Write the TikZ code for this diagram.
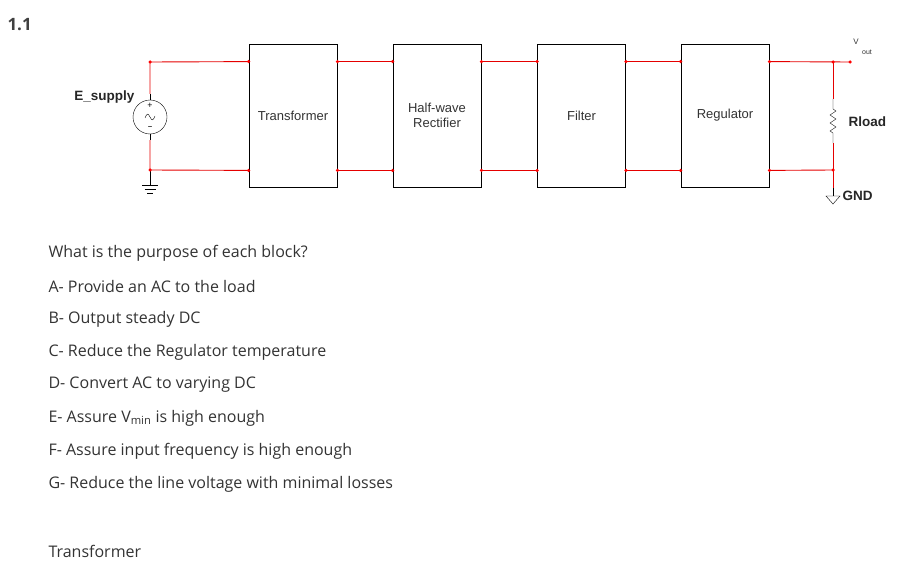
\documentclass[tikz,border=0pt]{standalone}
\usepackage{fontspec}
\setmainfont{Open Sans}
\newfontfamily\arial{Liberation Sans}
\begin{document}
\begin{tikzpicture}[x=1pt,y=-1pt,
 wire/.style={red!90!black,line width=0.9pt},
 blk/.style={draw,line width=0.8pt,minimum width=88pt,minimum height=143pt,inner sep=0pt,font=\arial\fontsize{13}{15}\selectfont,align=center,text=black!80},
 jd/.style={circle,fill=red,inner sep=0pt,minimum size=3.5pt},
 q/.style={anchor=west,font=\fontsize{16}{18}\selectfont,text=black!80},
 lbl/.style={font=\arial\bfseries\fontsize{13.5}{15}\selectfont,text=black!85}]
\useasboundingbox (0,0) rectangle (915,583);
\node[font=\bfseries\fontsize{17}{18}\selectfont,text=black!75,anchor=west] (t) at (4,25) {1.1};
\node[blk] (b1) at (293,115.5) {Transformer};
\node[blk] (b2) at (437,115.5) {Half-wave\\Rectifier};
\node[blk] (b3) at (581.5,115.5) {Filter};
\node[blk] (b4) at (725,115.5) {Regulator};
\foreach \b in {b1,b2,b3,b4}{
 \coordinate (\b tl) at ([yshift=-18pt]\b.north west);
 \coordinate (\b bl) at ([yshift=17pt]\b.south west);
 \coordinate (\b tr) at ([yshift=-18pt]\b.north east);
 \coordinate (\b br) at ([yshift=17pt]\b.south east);}
\draw[wire] (b1tr)--(b2tl) (b1br)--(b2bl) (b2tr)--(b3tl) (b2br)--(b3bl) (b3tr)--(b4tl) (b3br)--(b4bl);
% source
\node[draw,circle,minimum size=34pt,inner sep=0pt] (src) at (150,117) {};
\node[font=\fontsize{9}{9}\selectfont] at (150,106) {+};
\node[font=\fontsize{9}{9}\selectfont] at (150,128) {--};
\draw (145,118) .. controls (147,113) and (148,113) .. (150,117) .. controls (152,121) and (153,121) .. (155,116);
\coordinate (st) at (150,62); \coordinate (sb) at (150,170);
\draw (src.north)--++(0,-6) coordinate (sn);
\draw (src.south)--++(0,6) coordinate (ss);
\draw[wire] (sn)--(st)--(b1tl);
\draw[wire] (ss)--(sb)--(b1bl);
\draw (sb)--++(0,15) coordinate (g);
\draw (g)++(-8,0)--++(16,0) (g)++(-5.5,4)--++(11,0) (g)++(-3,8)--++(6,0);
\node[lbl,anchor=east] (es) at (138,97) {E\_supply};
% output
\coordinate (ot) at (833,62); \coordinate (ob) at (833,170); \coordinate (vo) at (850,62);
\draw[wire] (b4tr)--(vo) (b4br)--(ob);
\draw[wire] (ot)--(833,99) (833,143)--(ob)--(833,188);
\draw (833,99)--(833,109) -- (836,111) -- (830,115) -- (836,119) -- (830,123) -- (836,127) -- (830,131) -- (833,133) -- (833,143);
\draw (826,196)--(840,196)--(833,204)--cycle;
\draw (833,188)--(833,196);
\node[lbl,anchor=west] (rl) at (845,122) {Rload};
\node[lbl,anchor=west] (gnd) at (839,196) {GND};
\node[font=\arial\fontsize{8}{8}\selectfont,text=black!80] (v) at (856,42) {V};
\node[font=\arial\fontsize{7}{7}\selectfont,text=black!80] at (867,52) {out};
\foreach \c in {st,sb,b1tl,b1bl,b1tr,b1br,b2tl,b2bl,b2tr,b2br,b3tl,b3bl,b3tr,b3br,b4tl,b4bl,b4tr,b4br,ot,ob,vo} \node[jd] at (\c) {};
% questions
\node[q] at (45,253) {What is the purpose of each block?};
\node[q] at (45,286) {A- Provide an AC to the load};
\node[q] at (45,319) {B- Output steady DC};
\node[q] at (45,352) {C- Reduce the Regulator temperature};
\node[q] at (45,385) {D- Convert AC to varying DC};
\node[q] at (45,418) {E- Assure V\textsubscript{min} is high enough};
\node[q] at (45,451) {F- Assure input frequency is high enough};
\node[q] at (45,484) {G- Reduce the line voltage with minimal losses};
\node[q] at (45,551) {Transformer};
\end{tikzpicture}
\end{document}
